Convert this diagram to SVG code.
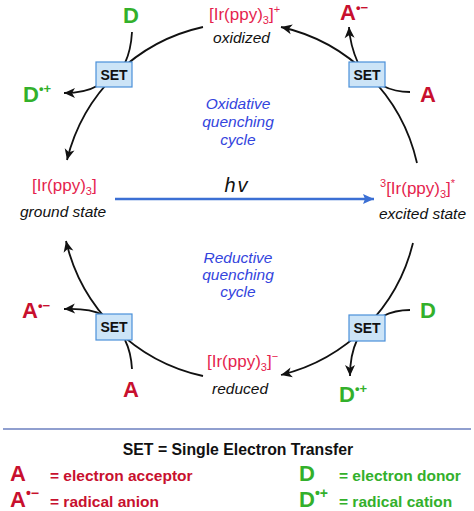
<svg xmlns="http://www.w3.org/2000/svg" width="474" height="511" viewBox="0 0 474 511">
<style>
.ln{fill:none;stroke:#111;stroke-width:1.8}
.ir{font-family:"Liberation Sans",Arial,sans-serif;font-size:17px;fill:#e51f4e}
.lab{font-family:"Liberation Sans",Arial,sans-serif;font-size:15.5px;font-style:italic;fill:#111}
.cyc{font-family:"Liberation Sans",Arial,sans-serif;font-size:15.5px;font-style:italic;fill:#3344dd;text-anchor:middle}
.big{font-family:"Liberation Sans",Arial,sans-serif;font-size:22px;font-weight:bold}
.red{fill:#c8102e}
.grn{fill:#33b02b}
.box{fill:#cce4f7;stroke:#4a90d9;stroke-width:1.2}
.set{font-family:"Liberation Sans",Arial,sans-serif;font-size:14px;font-weight:bold;fill:#111;text-anchor:middle}
.leg{font-family:"Liberation Sans",Arial,sans-serif;font-size:15.5px;font-weight:bold}
</style>
<defs>
<marker id="ah" viewBox="-12 -6 13 12" refX="0" refY="0" markerWidth="13" markerHeight="12" markerUnits="userSpaceOnUse" orient="auto">
<path d="M0,0 L-11,-5 L-8,0 L-11,5 Z" fill="#111"/>
</marker>
<marker id="bh" viewBox="-12 -6 13 12" refX="0" refY="0" markerWidth="13" markerHeight="12" markerUnits="userSpaceOnUse" orient="auto">
<path d="M0,0 L-11,-5 L-9,0 L-11,5 Z" fill="#3b6fd4"/>
</marker>
</defs>
<rect width="474" height="511" fill="#fff"/>

<g id="connectors">
<path class="ln" d="M203,27 A180,180 0 0 0 67,160" marker-end="url(#ah)"/>
<path class="ln" d="M417,163 A180,180 0 0 0 281,27" marker-end="url(#ah)"/>
<path class="ln" d="M413,243 A180,180 0 0 1 281,375" marker-end="url(#ah)"/>
<path class="ln" d="M203,376 A180,180 0 0 1 66,241" marker-end="url(#ah)"/>
<path class="ln" d="M132,32 Q131,50 125,63"/>
<path class="ln" d="M97,86 Q85,93 64,93" marker-end="url(#ah)"/>
<path class="ln" d="M358,63 Q350,45 349,27" marker-end="url(#ah)"/>
<path class="ln" d="M383,86 Q395,92 410,92"/>
<path class="ln" d="M410,310 Q395,310 383,316"/>
<path class="ln" d="M357,340 Q350,355 350,376" marker-end="url(#ah)"/>
<path class="ln" d="M103,315 Q90,308 64,309" marker-end="url(#ah)"/>
<path class="ln" d="M132,369 Q131,352 125,340"/>
<path d="M115,199 L374,199" fill="none" stroke="#3b6fd4" stroke-width="2.5" marker-end="url(#bh)"/>
</g>

<g id="set-top-left"><rect class="box" x="96" y="62" width="36" height="25"/><text class="set" x="114" y="79.5">SET</text></g>
<g id="set-top-right"><rect class="box" x="349" y="62" width="36" height="25"/><text class="set" x="367" y="79.5">SET</text></g>
<g id="set-bottom-left"><rect class="box" x="96" y="314" width="36" height="26"/><text class="set" x="114" y="332">SET</text></g>
<g id="set-bottom-right"><rect class="box" x="349" y="315" width="36" height="26"/><text class="set" x="367" y="333">SET</text></g>

<g id="oxidized">
<text class="ir" x="209" y="20">[Ir(ppy)<tspan dy="4" font-size="11">3</tspan><tspan dy="-4">]</tspan><tspan dy="-7" font-size="11">+</tspan></text>
<text class="lab" x="241.5" y="43" text-anchor="middle">oxidized</text>
</g>
<g id="ground">
<text class="ir" x="32" y="191">[Ir(ppy)<tspan dy="4" font-size="11">3</tspan><tspan dy="-4">]</tspan></text>
<text class="lab" x="20" y="217">ground state</text>
</g>
<g id="excited">
<text class="ir" x="380" y="194"><tspan dy="-7" font-size="11">3</tspan><tspan dy="7">[Ir(ppy)</tspan><tspan dy="4" font-size="11">3</tspan><tspan dy="-4">]</tspan><tspan dy="-7" font-size="11">*</tspan></text>
<text class="lab" x="379" y="219">excited state</text>
</g>
<g id="reduced">
<text class="ir" x="207" y="367">[Ir(ppy)<tspan dy="4" font-size="11">3</tspan><tspan dy="-4">]</tspan><tspan dy="-7" font-size="11">−</tspan></text>
<text class="lab" x="240" y="394" text-anchor="middle">reduced</text>
</g>
<g id="hv"><text x="237" y="192" text-anchor="middle" font-family="Liberation Sans, Arial, sans-serif" font-size="20" font-style="italic" letter-spacing="2" fill="#111">hv</text></g>

<g id="oxidative-cycle">
<text class="cyc" x="238" y="109">Oxidative</text>
<text class="cyc" x="238" y="127">quenching</text>
<text class="cyc" x="238" y="145">cycle</text>
</g>
<g id="reductive-cycle">
<text class="cyc" x="238" y="263">Reductive</text>
<text class="cyc" x="238" y="280">quenching</text>
<text class="cyc" x="238" y="297">cycle</text>
</g>

<g id="d-top"><text class="big grn" x="131" y="23" text-anchor="middle">D</text></g>
<g id="dplus-left"><text class="big grn" x="23" y="102">D<tspan dy="-9" font-size="13">•+</tspan></text></g>
<g id="aminus-top"><text class="big red" x="340" y="20">A<tspan dy="-8" font-size="13">•−</tspan></text></g>
<g id="a-right"><text class="big red" x="420" y="102">A</text></g>
<g id="aminus-left"><text class="big red" x="22" y="318">A<tspan dy="-8" font-size="13">•−</tspan></text></g>
<g id="a-bottom"><text class="big red" x="123" y="397">A</text></g>
<g id="d-right"><text class="big grn" x="420" y="318">D</text></g>
<g id="dplus-bottom"><text class="big grn" x="339" y="402">D<tspan dy="-9" font-size="13">•+</tspan></text></g>

<line x1="3" y1="429" x2="471" y2="429" stroke="#6b7fbf" stroke-width="1.5"/>

<g id="legend">
<text x="238" y="455" text-anchor="middle" font-family="Liberation Sans, Arial, sans-serif" font-size="15.8" font-weight="bold" fill="#111">SET = Single Electron Transfer</text>
<text class="big red" x="10" y="481">A</text>
<text class="leg red" x="50" y="481">= electron acceptor</text>
<text class="big red" x="10" y="507">A<tspan dy="-9" font-size="14">•−</tspan></text>
<text class="leg red" x="50" y="507">= radical anion</text>
<text class="big grn" x="299" y="481">D</text>
<text class="leg grn" x="339" y="481">= electron donor</text>
<text class="big grn" x="299" y="507">D<tspan dy="-9" font-size="14">•+</tspan></text>
<text class="leg grn" x="339" y="507">= radical cation</text>
</g>
</svg>
